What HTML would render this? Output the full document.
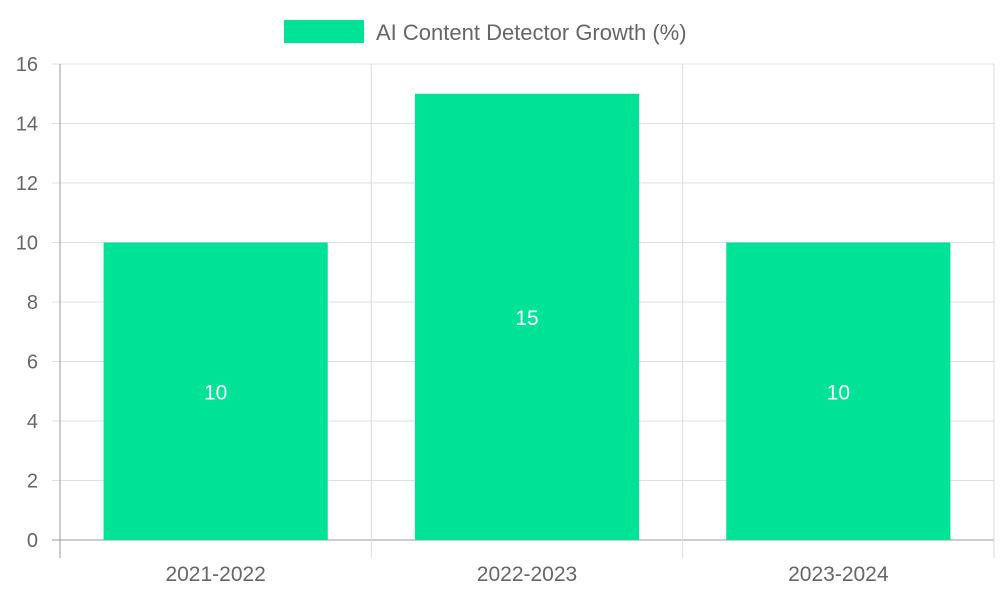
<!DOCTYPE html>
<html><head><meta charset="utf-8"><style>
body{margin:0;background:#fff;}
svg{display:block;font-family:"Liberation Sans",sans-serif;}
</style></head><body>
<svg id="chart" width="1000" height="600"></svg>
<script>
const categories=["2021-2022","2022-2023","2023-2024"];
const values=[10,15,10];
const yTicks=[0,2,4,6,8,10,12,14,16];
const seriesName="AI Content Detector Growth (%)";
const NS="http://www.w3.org/2000/svg";
const svg=document.getElementById("chart");
const L=60,R=994,T=64,B=540,yMax=16;
const y=v=>B-(v/yMax)*(B-T);
const band=(R-L)/categories.length;
const x=i=>L+band*i;
function mk(tag,attrs,text){const e=document.createElementNS(NS,tag);for(const k in attrs)e.setAttribute(k,attrs[k]);if(text!==undefined)e.textContent=text;svg.appendChild(e);return e;}
// grid horizontal
yTicks.forEach(t=>{
 const l=mk("line",{x1:L-8,x2:R,y1:y(t),y2:y(t),stroke:t===0?"#999":"#e0e0e0","stroke-width":1});
 
 
 const tx=mk("text",{x:L-22,y:y(t)+7,"text-anchor":"end","font-size":20,fill:"#666"},t);
 
 
});
// vertical grid
for(let i=0;i<=categories.length;i++){
 const l=mk("line",{x1:x(i),x2:x(i),y1:T,y2:B+18,stroke:i===0?"#999":"#ddd","stroke-width":1});
 
 
}
categories.forEach((c,i)=>{
 const bw=band*0.72,bx=x(i)+(band-bw)/2;
 const r=mk("rect",{x:bx,y:y(values[i]),width:bw,height:B-y(values[i]),fill:"#00e295"});
 
 
 const v=mk("text",{x:bx+bw/2,y:(y(values[i])+B)/2+8,"text-anchor":"middle","font-size":21,fill:"#fff"},values[i]);
 
 
 const cl=mk("text",{x:x(i)+band/2,y:581,"text-anchor":"middle","font-size":21,fill:"#666"},c);
 
 
});
const lb=mk("rect",{x:284,y:20,width:80,height:23,fill:"#00e295"});


const lt=mk("text",{x:376,y:40,"font-size":22,fill:"#666"},seriesName);


</script>
</body></html>
